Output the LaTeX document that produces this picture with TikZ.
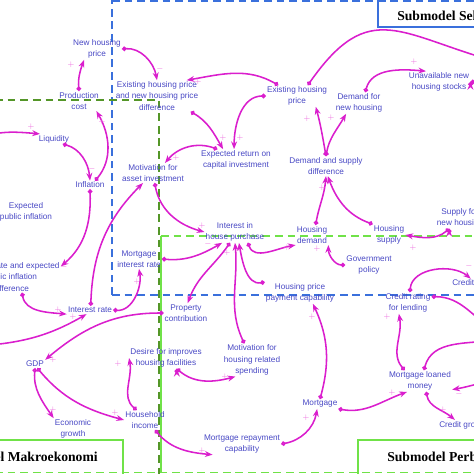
\documentclass[tikz,border=0pt]{standalone}
\usepackage{fontspec}
\setmainfont{Liberation Serif}
\setsansfont{Liberation Sans}
\usepackage{tikz}
\usetikzlibrary{arrows.meta}

\definecolor{cldmag}{RGB}{218,30,205}
\definecolor{lbltxt}{RGB}{72,72,196}
\definecolor{sgnpink}{RGB}{236,110,222}
\definecolor{sekblue}{RGB}{58,112,220}
\definecolor{makgreen}{RGB}{84,150,40}
\definecolor{perbgreen}{RGB}{112,226,72}

\begin{document}
\begin{tikzpicture}[x=0.025cm,y=0.025cm,
        cl/.style={{Circle[open,length=3.2pt]}-{Stealth[length=5.5pt,width=4.2pt]},
            draw=cldmag, line width=1.1pt},
        bnd/.style={line width=1.4pt, dash pattern=on 5.5pt off 3.5pt}]
    \tikzstyle{cvar}=[font=\sffamily\fontsize{5.85}{8.16}\selectfont, text=lbltxt,
        align=center, inner sep=0.7pt]
    \tikzstyle{sgn}=[font=\fontsize{5}{5}\selectfont, text=sgnpink, inner sep=0pt]
    \tikzstyle{subttl}=[font=\rmfamily\bfseries\fontsize{9.7}{11}\selectfont, inner sep=0pt]

    \useasboundingbox (0,0) rectangle (474,474);

    % submodel borders
    \draw[bnd, sekblue] (112,179) -- (112,474) (112,473) -- (480,473);
    \draw[bnd, sekblue] (112,179) -- (480,179);
    \draw[bnd, makgreen] (-5,374) -- (159,374) -- (159,-5);
    \draw[line width=1.2pt, perbgreen] (161,1) -- (161,238);
    \draw[bnd, perbgreen] (161,238) -- (480,238);
    \draw[bnd, perbgreen] (-5,1.5) -- (480,1.5);

    % title boxes
    \draw[line width=1.1pt, sekblue] (378,480) -- (378,447) -- (480,447);
    \node[subttl, anchor=west] (tsek) at (397,458) {Submodel Sektor Perumahan};
    \draw[line width=1.1pt, perbgreen] (-5,34) -- (123,34) -- (123,-5);
    \node[subttl, anchor=east] (tmak) at (98,17) {Submodel Makroekonomi};
    \draw[line width=1.1pt, perbgreen] (358,-5) -- (358,34) -- (480,34);
    \node[subttl, anchor=west] (tperb) at (387,17) {Submodel Perbankan};

    % variables
    \node[cvar] (nhp)  at (97,425)  {New housing\\price};
    \node[cvar] (pc)   at (79,373)  {Production\\cost};
    \node[cvar] (ehpd) at (157,378) {Existing housing price\\and new housing price\\difference};
    \node[cvar] (liq)  at (54,335)  {Liquidity};
    \node[cvar] (infl) at (90,289)  {Inflation};
    \node[cvar] (epi)  at (26,262)  {Expected\\public inflation};
    \node[cvar] (ied)  at (11,197)  {Inflation rate and expected\\public inflation\\difference};
    \node[cvar] (mai)  at (153,301) {Motivation for\\asset investment};
    \node[cvar] (erci) at (236,314) {Expected return on\\capital investment};
    \node[cvar] (ehp)  at (297,378) {Existing housing\\price};
    \node[cvar] (dnh)  at (359,371) {Demand for\\new housing};
    \node[cvar] (unhs) at (439,392) {Unavailable new\\housing stocks};
    \node[cvar] (dsd)  at (326,308) {Demand and supply\\difference};
    \node[cvar] (hd)   at (312,239) {Housing\\demand};
    \node[cvar] (hs)   at (389,239) {Housing\\supply};
    \node[cvar] (snh)  at (460,256) {Supply for\\new housing};
    \node[cvar] (ihp)  at (235,242) {Interest in\\house purchase};
    \node[cvar] (mir)  at (139,215) {Mortgage\\interest rate};
    \node[cvar] (gp)   at (369,209) {Government\\policy};
    \node[cvar] (hppc) at (300,181) {Housing price\\payment capability};
    \node[cvar] (crl)  at (408,171) {Credit rating\\for lending};
    \node[cvar, anchor=west] (crr) at (451,191) {Credit risk};
    \node[cvar] (ir)   at (90,164)  {Interest rate};
    \node[cvar] (prc)  at (186,161) {Property\\contribution};
    \node[cvar] (dihf) at (166,116) {Desire for improves\\housing facilities};
    \node[cvar] (mhrs) at (252,114) {Motivation for\\housing related\\spending};
    \node[cvar] (gdp)  at (35,110)  {GDP};
    \node[cvar] (eg)   at (73,45)   {Economic\\growth};
    \node[cvar] (hi)   at (145,54)  {Household\\income};
    \node[cvar] (mrc)  at (242,30)  {Mortgage repayment\\capability};
    \node[cvar] (mtg)  at (320,70)  {Mortgage};
    \node[cvar] (mlm)  at (420,93)  {Mortgage loaned\\money};
    \node[cvar, anchor=west] (cg) at (438,49) {Credit growth};

    % loose ends outside the frame
    \coordinate (liqsrc)   at (-30,330);
    \coordinate (episink)  at (-25,244);
    \coordinate (irsrc)    at (-20,128);
    \coordinate (ehpsink)  at (505,410);
    \coordinate (unhssink) at (495,392);
    \coordinate (crlsink)  at (500,140);
    \coordinate (mlmsink)  at (500,135);
    \coordinate (mlmsrc)   at (500,95);

    % causal links
    \path[cl] (nhp.east) edge[out=5,in=100] (ehpd.north)
        (pc.north) edge[out=95,in=-110] (nhp.-140)
        (infl.40) edge[out=50,in=-60] (pc.-30)
        (liqsrc) edge[out=30,in=175] (liq.160)
        (liq.-30) edge[out=-15,in=95] (infl.north)
        (infl.south) edge[out=-88,in=40] (ied.12)
        (epi.south west) edge[out=190,in=10] (episink)
        (ied.-55) edge[out=-80,in=175] (ir.south west)
        (irsrc) edge[out=5,in=210] (ir.-130)
        (ir.80) edge[out=88,in=225] (mai.-135)
        (ir.east) edge[out=-5,in=-80] (mir.south)
        (mai.-80) edge[out=-80,in=165] (ihp.west)
        (mir.east) edge[out=-5,in=210] (ihp.-140)
        (ihp.-115) edge[out=-125,in=70] (prc.80)
        (mhrs.115) edge[out=115,in=-85] (ihp.south)
        (hppc.north west) edge[out=190,in=-80] (ihp.-70)
        (ihp.-40) edge[out=-70,in=190] (hd.south west)
        (hd.70) edge[out=80,in=-95] (dsd.south)
        (hs.north west) edge[out=160,in=-70] (dsd.-80)
        (gp.west) edge[out=180,in=-90] (hd.south east)
        (snh.-135) edge[out=-140,in=-10] (hs.east);
    \path[cl] (dsd.north) edge[out=100,in=-75] (ehp.-30)
        (dsd.north) edge[out=80,in=-120] (dnh.-140)
        (ehp.150) edge[out=150,in=10] (ehpd.28)
        (ehp.west) edge[out=180,in=90] (erci.100)
        (ehpd.-25) edge[out=-30,in=120] (erci.140)
        (erci.150) edge[out=160,in=50] (mai.40)
        (ehp.45) edge[out=55,in=165,looseness=1.4] (ehpsink)
        (dnh.60) edge[out=75,in=175] (unhs.140)
        (unhs.east) edge (unhssink);
    \path[cl] (crl.80) edge[out=85,in=140] (crr.north)
        (crl.15) edge[out=0,in=150] (crlsink)
        (mlm.145) edge[out=130,in=-80] (crl.-130)
        (mlm.70) edge[out=75,in=190] (mlmsink)
        (mlmsrc) edge[out=190,in=10] (mlm.-15)
        (mtg.-15) edge[out=-10,in=200] (mlm.-140)
        (mlm.-60) edge[out=-80,in=140] (cg.150)
        (mtg.north) edge[out=75,in=-65] (hppc.-40)
        (mrc.east) edge[out=10,in=-100] (mtg.-120)
        (hi.-45) edge[out=-50,in=175] (mrc.-160)
        (hi.130) edge[out=140,in=-80] (dihf.west)
        (gdp.-60) edge[out=-50,in=165] (hi.west)
        (gdp.south) edge[out=-95,in=125] (eg.north west)
        (prc.west) edge[out=180,in=40] (gdp.north east)
        (dihf.-45) edge[out=-40,in=195] (mhrs.-135);

    % polarities
    \foreach \sx/\sy/\sg [count=\i] in {160/405/-, 71/409/+, 102/352/+, 31/347/+,
            92/305/-, 64/207/-, 58/164/+, 73/157/+, 137/192/+, 202/248/+, 208/230/-,
            227/221/+, 287/226/+, 322/286/+, 317/225/+, 413/226/+, 307/355/+,
            331/356/+, 198/392/+, 240/336/+, 223/336/+, 176/316/+, 414/412/+,
            469/208/-, 387/157/+, 459/80/-, 392/81/+, 443/64/+, 312/157/+,
            306/56/+, 202/23/+, 118/110/+, 115/61/+, 53/64/+, 53/114/+, 225/97/+}
        \node[sgn] (sg\i) at (\sx,\sy) {$\sg$};
\end{tikzpicture}
\end{document}
